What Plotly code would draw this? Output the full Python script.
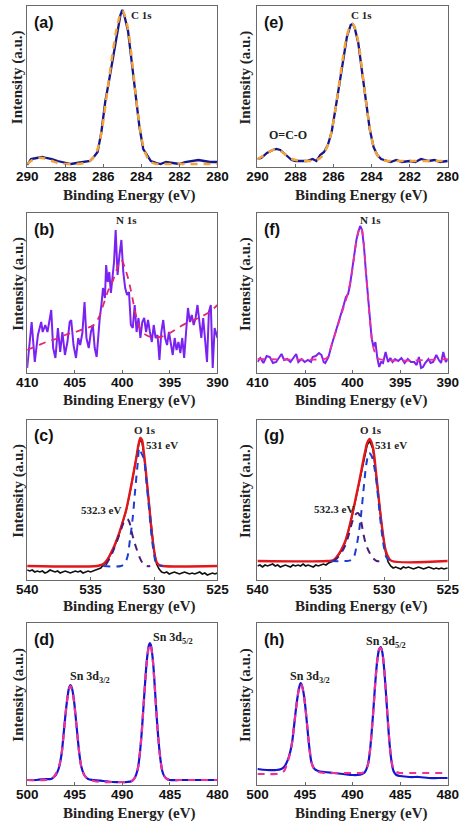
import plotly.graph_objects as go

# ---------------- (a) C 1s ----------------
a_E = [290.0, 289.8, 289.5, 289.2, 289.0, 288.7, 288.4, 288.0, 287.7, 287.4, 287.0, 286.7, 286.5, 286.3,
       286.1, 285.9, 285.7, 285.5, 285.3, 285.1, 285.0, 284.9, 284.7, 284.5, 284.3, 284.1, 283.9, 283.7,
       283.5, 283.2, 283.0, 282.7, 282.4, 282.0, 281.7, 281.4, 281.0, 280.7, 280.4, 280.0]
a_data = [2, 8, 9, 10, 9, 8, 6, 4, 3, 4, 5, 6, 10, 15, 35, 65, 86, 108, 133, 152, 157, 152, 136, 105,
          70, 40, 18, 12, 6, 4, 3, 5, 4, 3, 5, 6, 7, 6, 5, 5]
a_fit = [3, 6, 9, 9, 8, 6, 4, 3, 3, 3, 4, 6, 10, 18, 34, 60, 88, 115, 138, 153, 156, 153, 138, 108,
         73, 42, 21, 10, 5, 3, 3, 3, 3, 3, 3, 3, 3, 3, 3, 3]

# ---------------- (e) C 1s ----------------
e_E = [290.0, 289.8, 289.5, 289.2, 289.0, 288.8, 288.5, 288.2, 288.0, 287.7, 287.4, 287.1, 286.9, 286.7,
       286.5, 286.3, 286.1, 285.9, 285.7, 285.5, 285.3, 285.1, 285.0, 284.9, 284.7, 284.5, 284.3, 284.1,
       283.9, 283.7, 283.5, 283.2, 283.0, 282.7, 282.4, 282.0, 281.7, 281.4, 281.0, 280.7, 280.4, 280.0]
e_data = [8, 9, 14, 17, 18, 17, 12, 7, 6, 6, 6, 8, 6, 12, 15, 22, 35, 58, 82, 108, 130, 142, 143, 140,
          124, 95, 65, 38, 20, 12, 8, 6, 5, 7, 5, 6, 5, 8, 6, 7, 5, 6]
e_fit = [8, 10, 14, 17, 17, 16, 12, 8, 7, 6, 6, 6, 7, 9, 14, 22, 36, 58, 84, 110, 131, 142, 143, 140,
         125, 97, 66, 39, 21, 12, 8, 6, 6, 6, 6, 6, 6, 6, 6, 6, 6, 6]

# ---------------- (b) N 1s ----------------
b_E = [410.0, 409.53, 409.2, 408.87, 408.53, 408.37, 408.1, 407.87, 407.7, 407.47,
       407.27, 407.03, 406.77, 406.53, 406.3, 406.03, 405.77, 405.53, 405.37, 405.13,
       404.87, 404.63, 404.43, 404.2, 403.97, 403.77, 403.53, 403.3, 403.1, 402.9,
       402.7, 402.5, 402.37, 402.2, 402.03, 401.83, 401.7, 401.53, 401.37, 401.2,
       401.03, 400.87, 400.7, 400.5, 400.3, 400.1, 399.9, 399.7, 399.5, 399.3,
       399.1, 398.9, 398.7, 398.5, 398.3, 398.1, 397.9, 397.7, 397.5, 397.3,
       397.1, 396.9, 396.7, 396.5, 396.3, 396.1, 395.9, 395.7, 395.5, 395.3,
       395.1, 394.9, 394.7, 394.5, 394.3, 394.1, 393.9, 393.7, 393.5, 393.3,
       393.1, 392.9, 392.7, 392.5, 392.3, 392.1, 391.9, 391.7, 391.5, 391.3,
       391.1, 390.9, 390.7, 390.5, 390.3, 390.0]
b_data = [5, 51, 11, 38, 51, 41, 48, 41, 50, 63,
          25, 15, 45, 21, 41, 18, 31, 51, 53, 28,
          15, 35, 28, 40, 71, 35, 25, 41, 48, 25,
          16, 45, 55, 68, 85, 75, 108, 91, 101, 80,
          93, 111, 143, 98, 118, 133, 101, 85, 78, 81,
          48, 45, 68, 41, 55, 35, 51, 55, 41, 53,
          41, 31, 48, 35, 38, 13, 41, 53, 35, 28,
          41, 28, 18, 35, 23, 31, 20, 35, 15, 41,
          65, 51, 58, 48, 55, 68, 48, 35, 55, 28,
          11, 61, 68, 5, 45, 35]
b_fit_E = [410, 409, 408, 407, 406, 405, 404, 403, 402.5, 402, 401.5, 401, 400.5, 400.2, 400,
           399.7, 399.4, 399, 398.5, 398, 397.5, 397, 396, 395, 394, 393, 392, 391, 390]
b_fit = [23, 27, 31, 34, 38, 41, 44, 48, 55, 68, 82, 92, 106, 113, 112,
         104, 95, 78, 55, 42, 38, 36, 36, 40, 46, 51, 55, 60, 68]

# ---------------- (f) N 1s ----------------
f_E = [410.0, 409.7, 409.37, 409.03, 408.7, 408.37, 408.03, 407.7, 407.47, 407.2,
       406.87, 406.53, 406.2, 405.93, 405.7, 405.37, 405.03, 404.7, 404.37, 404.2,
       403.87, 403.53, 403.27, 403.03, 402.87, 402.53, 402.2, 401.87, 401.53, 401.2,
       400.93, 400.7, 400.47, 400.27, 400.03, 399.8, 399.6, 399.4, 399.2, 399.0,
       398.8, 398.6, 398.4, 398.2, 398.0, 397.8, 397.6, 397.4, 397.2, 397.0,
       396.8, 396.53, 396.27, 396.03, 395.8, 395.53, 395.2, 394.87, 394.53, 394.2,
       393.87, 393.53, 393.27, 393.03, 392.8, 392.6, 392.37, 392.03, 391.8, 391.53,
       391.2, 390.93, 390.7, 390.47, 390.2, 390.0]
f_data = [11, 15, 10, 17, 16, 10, 11, 15, 19, 13,
          14, 11, 15, 19, 11, 14, 11, 13, 11, 16,
          17, 20, 18, 11, 10, 16, 28, 38, 48, 58,
          68, 76, 79, 88, 105, 121, 133, 141, 147, 143,
          126, 101, 78, 55, 35, 26, 31, 15, 6, 11,
          10, 21, 11, 15, 11, 14, 12, 15, 10, 14,
          11, 11, 8, 16, 5, 6, 10, 14, 10, 11,
          18, 13, 10, 21, 11, 14]
f_fit_E = [410, 403.0, 402.7, 402.4, 402.0, 401.6, 401.2, 400.9, 400.6, 400.3, 400.0, 399.7,
           399.4, 399.2, 399.0, 398.8, 398.6, 398.4, 398.2, 398.0, 397.8, 397.5, 397.2, 390]
f_fit = [14, 14, 15, 22, 34, 46, 58, 67, 76, 88, 105, 126,
         141, 146, 142, 127, 102, 78, 55, 37, 25, 17, 14, 14]

# ---------------- (c) O 1s ----------------
c_raw_E = [540.0, 539.8, 539.6, 539.4, 539.2, 539.0, 538.8, 538.6, 538.4, 538.2,
           538.0, 537.8, 537.6, 537.4, 537.2, 537.0, 536.8, 536.6, 536.4, 536.2,
           536.0, 535.8, 535.6, 535.4, 535.2, 535.0, 534.8, 534.6, 534.4, 534.2, 534.0,
           533.7, 533.4, 533.1, 532.8, 532.5, 532.2, 531.9, 531.6, 531.4, 531.2, 531.07,
           530.95, 530.8, 530.6, 530.4, 530.2, 530.0,
           529.8, 529.6, 529.4, 529.2, 529.0, 528.8, 528.6, 528.4, 528.2, 528.0,
           527.8, 527.6, 527.4, 527.2, 527.0, 526.8, 526.6, 526.4, 526.2, 526.0,
           525.8, 525.6, 525.4, 525.2, 525.0]
c_raw = [10, 9, 10, 8, 9, 8, 9, 7, 8, 10,
         9, 8, 9, 7, 8, 9, 8, 7, 8, 9,
         8, 9, 7, 8, 9, 8, 9, 10, 11, 12, 15,
         19, 26, 34, 44, 56, 69, 87, 107, 121, 136, 140,
         138, 126, 102, 76, 49, 29,
         16, 11, 8, 7, 8, 6, 7, 8, 7, 6,
         7, 8, 7, 6, 7, 6, 7, 8, 6, 7,
         5, 6, 7, 6, 7]
c_env_E = [540.0, 534.5, 534.2, 534.0, 533.7, 533.4, 533.1, 532.8, 532.5, 532.2, 531.9, 531.6,
           531.4, 531.2, 531.07, 530.95, 530.8, 530.6, 530.4, 530.2, 530.0, 529.8, 529.6, 529.3, 525.0]
c_env = [14, 14, 15, 16, 20, 27, 35, 45, 57, 70, 88, 108,
         122, 137, 142, 140, 127, 103, 77, 50, 30, 18, 15, 14, 14]
c_p1_E = [534.0, 532.6, 532.3, 532.1, 531.9, 531.7, 531.5, 531.3, 531.15, 531.0, 530.8, 530.6,
          530.4, 530.2, 530.0, 529.8, 529.3]
c_p1 = [14, 14, 17, 23, 40, 60, 88, 115, 132, 127, 121, 98, 72, 45, 26, 16, 14]
c_p2_E = [533.8, 533.4, 533.1, 532.8, 532.5, 532.3, 532.1, 531.95, 531.78, 531.6, 531.4, 531.15,
          530.9, 530.6, 530.3]
c_p2 = [15, 24, 33, 43, 54, 60, 61, 58, 49, 40, 32, 23, 17, 14, 14]

# ---------------- (g) O 1s ----------------
g_raw_E = [540.0, 539.8, 539.6, 539.4, 539.2, 539.0, 538.8, 538.6, 538.4, 538.2,
           538.0, 537.8, 537.6, 537.4, 537.2, 537.0, 536.8, 536.6, 536.4, 536.2,
           536.0, 535.8, 535.6, 535.4, 535.2, 535.0, 534.8, 534.6, 534.4, 534.2, 534.0,
           533.7, 533.4, 533.1, 532.9, 532.7, 532.4, 532.2, 532.0, 531.8, 531.65, 531.5,
           531.35, 531.15, 530.9, 530.65, 530.4, 530.15, 529.9,
           529.7, 529.5, 529.3, 529.1, 528.9, 528.7, 528.5, 528.3, 528.1, 527.9,
           527.7, 527.5, 527.3, 527.1, 526.9, 526.7, 526.5, 526.3, 526.1, 525.9,
           525.7, 525.5, 525.3, 525.0]
g_raw = [14, 15, 13, 15, 14, 15, 16, 14, 15, 13,
         14, 15, 14, 13, 15, 14, 15, 14, 16, 14,
         15, 14, 13, 15, 14, 15, 16, 15, 17, 18, 19,
         23, 29, 37, 45, 55, 72, 84, 96, 109, 119, 128,
         135, 139, 131, 106, 76, 49, 28,
         18, 14, 12, 13, 12, 11, 13, 12, 13, 12,
         11, 12, 13, 12, 11, 12, 13, 12, 11, 12,
         11, 12, 11, 12]
g_env_E = [540.0, 534.5, 534.0, 533.7, 533.4, 533.1, 532.9, 532.7, 532.4, 532.2, 532.0, 531.8,
           531.65, 531.5, 531.35, 531.15, 530.9, 530.65, 530.4, 530.15, 529.9, 529.65, 529.4, 525.0]
g_env = [19, 19, 20, 24, 30, 38, 46, 56, 73, 85, 97, 110,
         120, 129, 137, 141, 133, 107, 77, 50, 30, 22, 19, 19]
g_p1_E = [534.2, 533.0, 532.6, 532.4, 532.2, 532.0, 531.8, 531.6, 531.4, 531.2, 531.0, 530.8,
          530.6, 530.4, 530.2, 530.0, 529.8, 529.4]
g_p1 = [19, 19, 20, 23, 33, 48, 69, 95, 117, 127, 124, 114, 96, 71, 48, 31, 22, 19]
g_p2_E = [534.0, 533.7, 533.4, 533.1, 532.9, 532.7, 532.5, 532.3, 532.1, 532.0, 531.8, 531.65,
          531.4, 531.15, 530.9, 530.6, 530.3]
g_p2 = [19, 22, 27, 34, 41, 50, 59, 65, 67, 66, 57, 46, 34, 27, 22, 19, 19]

# ---------------- (d) Sn 3d ----------------
d_E = [500.0, 499.0, 498.0, 497.5, 497.2, 497.0, 496.7, 496.4, 496.2, 496.0,
       495.8, 495.6, 495.45, 495.3, 495.1, 494.9, 494.7, 494.5, 494.3, 494.0,
       493.6, 493.0, 492.0, 491.0, 490.0, 489.5, 489.0, 488.7, 488.4, 488.2,
       488.0, 487.8, 487.6, 487.4, 487.2, 487.1, 487.0, 486.8, 486.6, 486.4,
       486.2, 486.0, 485.8, 485.6, 485.3, 485.0, 484.0, 483.0, 482.0, 481.0, 480.0]
d_data = [5, 5, 6, 6, 8, 10, 16, 30, 48, 68,
          85, 97, 100, 97, 86, 68, 48, 30, 18, 10,
          6, 5, 4, 3, 3, 3, 4, 7, 15, 28,
          48, 75, 103, 127, 140, 142, 140, 126, 100, 70,
          45, 26, 14, 9, 6, 5, 5, 5, 5, 5, 5]
d_fit = [5, 5, 5, 6, 8, 11, 17, 30, 47, 67,
         85, 96, 99, 96, 85, 67, 47, 30, 18, 10,
         6, 4, 3, 3, 3, 3, 4, 7, 15, 28,
         48, 75, 103, 126, 139, 141, 139, 125, 99, 70,
         45, 26, 14, 9, 6, 5, 5, 5, 5, 5, 5]

# ---------------- (h) Sn 3d ----------------
h_E = [500.0, 499.0, 498.0, 497.5, 497.2, 497.0, 496.7, 496.4, 496.2, 496.0,
       495.8, 495.6, 495.45, 495.3, 495.1, 494.9, 494.7, 494.5, 494.3, 494.0,
       493.6, 493.0, 492.0, 491.0, 490.0, 489.5, 489.0, 488.7, 488.4, 488.2,
       488.0, 487.8, 487.6, 487.4, 487.2, 487.05, 486.9, 486.7, 486.5, 486.3,
       486.1, 485.9, 485.7, 485.4, 485.0, 484.0, 483.0, 482.0, 481.0, 480.0]
h_data = [16, 15, 15, 16, 18, 21, 28, 40, 55, 72,
          87, 98, 102, 99, 89, 72, 52, 34, 22, 16,
          14, 13, 12, 11, 10, 10, 11, 13, 20, 32,
          52, 77, 104, 125, 136, 138, 134, 118, 93, 65,
          40, 23, 14, 10, 9, 8, 8, 7, 7, 7]
h_fit = [11, 11, 11, 12, 14, 18, 27, 40, 55, 72,
         87, 98, 101, 98, 88, 72, 52, 34, 22, 15,
         13, 12, 12, 12, 12, 12, 12, 14, 20, 32,
         52, 77, 104, 125, 136, 137, 134, 118, 93, 65,
         40, 24, 16, 13, 12, 12, 12, 12, 12, 12]

# ---------------- axes / labels ----------------
ticks_C = [290, 288, 286, 284, 282, 280]
ticks_N = [410, 405, 400, 395, 390]
ticks_O = [540, 535, 530, 525]
ticks_Sn = [500, 495, 490, 485, 480]
panel_letters = ["(a)", "(e)", "(b)", "(f)", "(c)", "(g)", "(d)", "(h)"]
x_title = "Binding Energy (eV)"
y_title = "Intensity (a.u.)"

W, H = 474, 823
col_px = [(17, 217), (259, 459)]
row_px = [(6, 167), (213, 373), (420, 580), (623, 785)]
row_xrange = [[290, 280], [410, 390], [540, 525], [500, 480]]
row_ticks = [ticks_C, ticks_N, ticks_O, ticks_Sn]
xtitle_y = [195, 400, 606, 813]
ytitle_x = [7, 246]
xtitle_x = [125, 368]

NAVY = "#16168c"
ORANGE = "#f2a43a"
VIOLET = "#7a22f2"
CRIMSON = "#e0286e"
MAGENTA = "#f0309a"
RED = "#e4161c"
BLUE = "#1c3cd2"
INDIGO = "#4a1e78"
SNBLUE = "#1414d2"

fig = go.Figure()


def ax(i):
    return ("x" if i == 0 else f"x{i+1}"), ("y" if i == 0 else f"y{i+1}")


def add_line(i, xs, ys, color, width=2.0, dash=None, shape="linear"):
    xa, ya = ax(i)
    fig.add_trace(go.Scatter(x=xs, y=ys, mode="lines", xaxis=xa, yaxis=ya,
                             line=dict(color=color, width=width, dash=dash, shape=shape),
                             showlegend=False, hoverinfo="skip"))


DASH = "7px,6px"
# (a)
add_line(0, a_E, a_data, NAVY, 2.3)
add_line(0, a_E, a_fit, ORANGE, 2.5, DASH, "spline")
# (e)
add_line(1, e_E, e_data, NAVY, 2.3)
add_line(1, e_E, e_fit, ORANGE, 2.5, DASH, "spline")
# (b)
add_line(2, b_E, b_data, VIOLET, 2.0)
add_line(2, b_fit_E, b_fit, CRIMSON, 1.8, DASH, "spline")
# (f)
add_line(3, f_E, f_data, VIOLET, 2.0)
add_line(3, f_fit_E, f_fit, MAGENTA, 1.8, DASH, "spline")
# (c)
add_line(4, c_raw_E, c_raw, "#111111", 1.6)
add_line(4, c_env_E, c_env, RED, 2.4, None, "spline")
add_line(4, c_p1_E, c_p1, BLUE, 2.0, DASH, "spline")
add_line(4, c_p2_E, c_p2, INDIGO, 2.0, DASH, "spline")
# (g)
add_line(5, g_raw_E, g_raw, "#111111", 1.6)
add_line(5, g_env_E, g_env, RED, 2.4, None, "spline")
add_line(5, g_p1_E, g_p1, BLUE, 2.0, DASH, "spline")
add_line(5, g_p2_E, g_p2, INDIGO, 2.0, DASH, "spline")
# (d)
add_line(6, d_E, d_data, SNBLUE, 2.2, None, "spline")
add_line(6, d_E, d_fit, MAGENTA, 2.2, DASH, "spline")
# (h)
add_line(7, h_E, h_data, SNBLUE, 2.2, None, "spline")
add_line(7, h_E, h_fit, MAGENTA, 2.2, DASH, "spline")

layout = dict(width=W, height=H, margin=dict(l=0, r=0, t=0, b=0),
              paper_bgcolor="white", plot_bgcolor="white", showlegend=False)

annotations = []
for i in range(8):
    r, c = divmod(i, 2)
    x0, x1 = col_px[c]
    y0, y1 = row_px[r]
    xa, ya = ax(i)
    xkey = "xaxis" if i == 0 else f"xaxis{i+1}"
    ykey = "yaxis" if i == 0 else f"yaxis{i+1}"
    layout[xkey] = dict(domain=[x0 / W, x1 / W], anchor=ya, range=row_xrange[r],
                        tickvals=row_ticks[r], ticks="inside", ticklen=3, tickcolor="#666",
                        ticklabelstandoff=-3,
                        showline=True, mirror=True, linecolor="#6a6a6a", linewidth=1.2,
                        showgrid=False, zeroline=False,
                        tickfont=dict(family="Liberation Sans", size=13.5, color="#111", weight="bold"))
    layout[ykey] = dict(domain=[1 - y1 / H, 1 - y0 / H], anchor=xa, range=[0, y1 - y0],
                        showticklabels=False, ticks="", showline=True, mirror=True,
                        linecolor="#6a6a6a", linewidth=1.2, showgrid=False, zeroline=False)
    # panel letter
    annotations.append(dict(xref="paper", yref="paper", x=(x0 + 5) / W, y=1 - (y0 + 16) / H,
                            xanchor="left", yanchor="middle", showarrow=False,
                            text=f"<b>{panel_letters[i]}</b>",
                            font=dict(family="Liberation Sans", size=16, color="#111")))
    # x title
    annotations.append(dict(xref="paper", yref="paper", x=xtitle_x[c] / W, y=1 - xtitle_y[r] / H,
                            xanchor="center", yanchor="middle", showarrow=False,
                            text=f"<b>{x_title}</b>",
                            font=dict(family="Liberation Serif", size=15, color="#222")))
    # y title
    annotations.append(dict(xref="paper", yref="paper", x=ytitle_x[c] / W,
                            y=1 - ((y0 + y1) / 2 - 9) / H, textangle=-90,
                            xanchor="center", yanchor="middle", showarrow=False,
                            text=f"<b>{y_title}</b>",
                            font=dict(family="Liberation Serif", size=15, color="#222")))

# peak labels: (panel index, E, intensity, text, size)
peak_labels = [
    (0, 284.0, 152, "C 1s", 11),
    (1, 284.55, 152, "C 1s", 11),
    (1, 288.4, 32, "O=C-O", 12),
    (2, 399.6, 153, "N 1s", 11),
    (3, 398.1, 153, "N 1s", 11),
    (4, 530.7, 150, "O 1s", 11),
    (4, 529.35, 135, "531 eV", 11),
    (4, 534.2, 70, "532.3 eV", 11),
    (5, 531.07, 150, "O 1s", 11),
    (5, 529.5, 135, "531 eV", 11),
    (5, 534.0, 71, "532.3 eV", 11),
    (6, 493.4, 108, "Sn 3d<sub>3/2</sub>", 12),
    (6, 484.7, 147, "Sn 3d<sub>5/2</sub>", 12),
    (7, 494.5, 108, "Sn 3d<sub>3/2</sub>", 12),
    (7, 486.5, 143, "Sn 3d<sub>5/2</sub>", 12),
]
for i, xv, yv, txt, sz in peak_labels:
    xa, ya = ax(i)
    annotations.append(dict(xref=xa, yref=ya, x=xv, y=yv, xanchor="center", yanchor="middle",
                            showarrow=False, text=f"<b>{txt}</b>",
                            font=dict(family="Liberation Serif", size=sz, color="#222")))

layout["annotations"] = annotations
fig.update_layout(**layout)
fig.write_html("out.html")
